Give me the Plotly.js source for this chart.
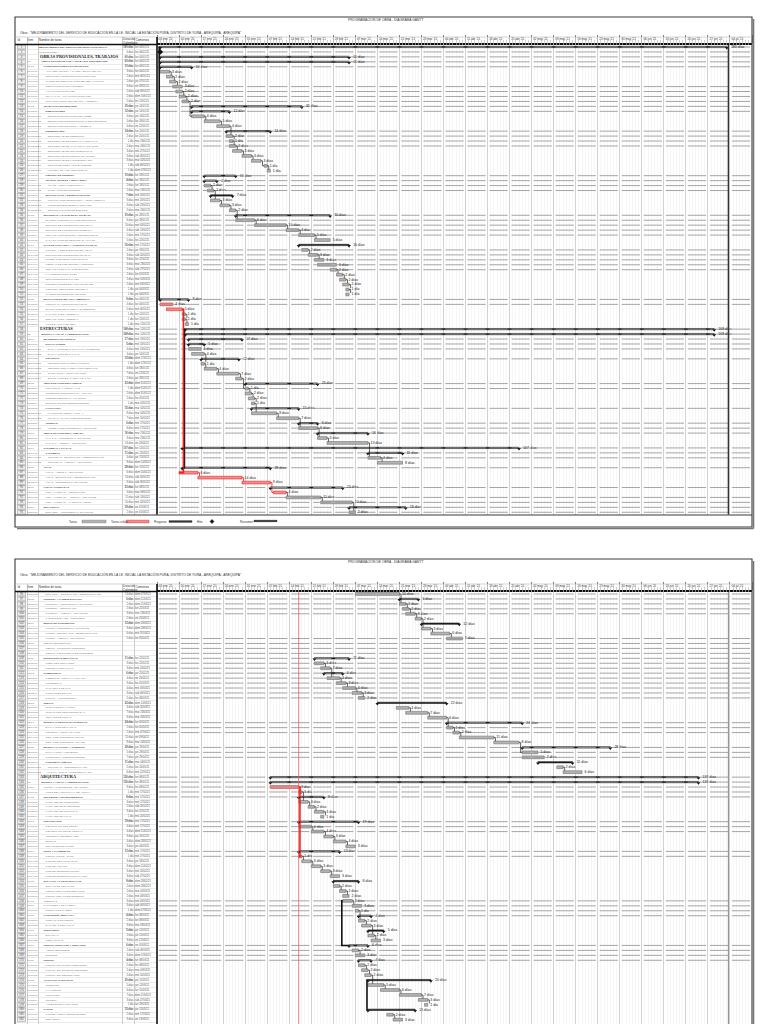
<!DOCTYPE html>
<html><head><meta charset="utf-8">
<script src="https://cdn.plot.ly/plotly-3.0.1.min.js"></script>
<style>html,body{margin:0;padding:0;background:#fff}#chart{width:768px;height:1024px}</style>
</head><body><div id="chart"></div>
<script>
// ---------------- DATA ----------------
const weekLabels = ["03 ene '21","10 ene '21","17 ene '21","24 ene '21","31 ene '21","07 feb '21","14 feb '21","21 feb '21","28 feb '21","07 mar '21","14 mar '21","21 mar '21","28 mar '21","04 abr '21","11 abr '21","18 abr '21","25 abr '21","02 may '21","09 may '21","16 may '21","23 may '21","30 may '21","06 jun '21","13 jun '21","20 jun '21","27 jun '21","04 jul '21"];

// page 1 : S=resumen, T=tarea, C=tarea crítica, M=hito
const p1Type = ['S','M','S','S','S','T','T','T','T','T',
                'T','T','S','S','T','T','T','S','T','T',
                'T','T','T','T','T','T','S','S','T','T',
                'S','T','T','T','S','T','T','T','T','T',
                'S','T','T','T','T','T','T','T','T','T',
                'T','S','C','C','T','T','T','S','S','S',
                'S','T','T','S','T','T','T','T','S','T',
                'T','T','T','S','T','T','S','T','S','T',
                'T','S','S','T','T','S','C','C','C','S',
                'C','T','T','S','T'];
const p1Start = [0,0,0,0,0,0,2,3,4,5,
                 6,7,10,10,10,14,18,21,21,22,
                 22,23,26,29,33,34,14,14,14,15,
                 16,16,19,22,24,24,30,40,44,49,
                 44,45,47,49,50,54,56,57,58,59,
                 59,0,0,2,7,7,8,8,8,9,
                 9,9,10,13,13,14,18,24,27,27,
                 27,28,29,29,29,37,44,44,50,50,
                 53,7,66,66,69,7,6,12,26,35,
                 36,40,51,60,60];
const p1Dur = [180,0,60,60,10,3,2,2,3,2,
               2,2,35,12,4,5,4,14,2,1,
               2,3,3,3,1,1,10,4,2,2,
               7,3,3,2,30,6,10,4,5,5,
               16,2,3,3,6,2,2,2,2,1,
               1,9,4,5,1,1,1,168,168,17,
               5,4,4,12,1,4,7,2,23,1,
               2,2,1,15,8,7,6,6,16,3,
               13,107,11,4,8,28,6,14,9,23,
               4,11,10,18,2];
const p1Level = [0,0,1,1,2,3,3,3,3,3,
                 3,3,2,3,4,4,4,3,4,4,
                 4,4,4,4,4,4,3,3,4,4,
                 3,4,4,4,2,3,3,3,3,3,
                 2,3,3,3,3,3,3,3,3,3,
                 3,2,3,3,3,3,3,1,1,2,
                 3,4,4,3,4,4,4,4,2,3,
                 3,3,3,3,4,4,3,4,2,3,
                 3,2,3,4,4,2,3,3,3,2,
                 3,3,3,2,3];
const p1Name = ["MEJORAMIENTO DEL SERVICIO DE EDUCACIÓN INICIAL","INICIO DE OBRA","OBRAS PROVISIONALES, TRABAJOS","OBRAS PROVISIONALES Y TRABAJOS PRELIMINARES","CONSTRUCCIONES PROVISIONALES","ALMACÉN, OFICINA Y CASETA DE GUARDIANÍA","SERVICIOS HIGIÉNICOS PROVISIONALES","CARTEL DE IDENTIFICACIÓN DE OBRA 3.60x7.20","CERCO PROVISIONAL DE OBRA","AULAS PROVISIONALES",
"SS.HH. PARA AULAS PROVISIONALES","INST. PROVISIONALES DE AGUA Y ENERGÍA","TRABAJOS PRELIMINARES","DEMOLICIONES","DEMOLICIÓN DE MUROS DE ADOBE","DEMOLICIÓN DE ESTRUCTURAS DE CONCRETO","DEMOLICIÓN DE PISOS Y VEREDAS","DESMONTAJES","DESMONTAJE DE COBERTURA","DESMONTAJE DE PUERTAS Y VENTANAS",
"DESMONTAJE DE APARATOS SANITARIOS","DESMONTAJE DE INST. ELÉCTRICAS","DESMONTAJE DE JUEGOS INFANTILES","DESMONTAJE DE TANQUE ELEVADO","RETIRO DE MOBILIARIO EXISTENTE","LIMPIEZA DE ÁREA DESMONTADA","LIMPIEZA DE TERRENO","TRAZOS, NIVELES Y REPLANTEO","TRAZO Y REPLANTEO INICIAL","NIVELACIÓN DE TERRENO",
"MOVILIZACIÓN Y DESMOVILIZACIÓN","MOVILIZACIÓN DE EQUIPOS Y HERRAMIENTAS","FLETE TERRESTRE DE MATERIALES","DESMOVILIZACIÓN DE EQUIPOS","SEGURIDAD Y SALUD EN EL TRABAJO","ELABORACIÓN DEL PLAN DE SEGURIDAD","EQUIPOS DE PROTECCIÓN INDIVIDUAL","EQUIPOS DE PROTECCIÓN COLECTIVA","SEÑALIZACIÓN TEMPORAL DE SEGURIDAD","CAPACITACIÓN EN SEGURIDAD Y SALUD",
"PLAN DE VIGILANCIA Y CONTROL COVID-19","LIMPIEZA Y DESINFECCIÓN DE ÁREAS","EQUIPOS DE PROTECCIÓN COVID-19","PRUEBAS DE DESCARTE COVID-19","MEDIDAS DE PREVENCIÓN Y CONTROL","SEÑALIZACIÓN PARA PREVENCIÓN","LAVADEROS PORTÁTILES","TERMÓMETROS DIGITALES","DISPENSADORES DE ALCOHOL EN GEL","CONTROL MÉDICO DEL PERSONAL",
"MANEJO DE RESIDUOS SÓLIDOS","MITIGACIÓN DE IMPACTO AMBIENTAL","RIEGO PARA CONTROL DE POLVO","ELIMINACIÓN DE MATERIAL EXCEDENTE","CAPACITACIÓN AMBIENTAL","SEÑALIZACIÓN AMBIENTAL","LIMPIEZA FINAL DE OBRA","ESTRUCTURAS","MÓDULO I: AULAS Y ADMINISTRACIÓN","MOVIMIENTO DE TIERRAS",
"EXCAVACIONES","EXCAVACIÓN DE ZANJAS PARA CIMIENTOS","EXCAVACIÓN DE ZAPATAS","RELLENOS","RELLENO CON MATERIAL PROPIO","RELLENO CON MATERIAL DE PRÉSTAMO","NIVELACIÓN Y COMPACTACIÓN","ELIMINACIÓN DE MATERIAL D=5 KM","OBRAS DE CONCRETO SIMPLE","SOLADOS E=4\" MEZCLA 1:12",
"CIMIENTOS CORRIDOS 1:10 + 30% P.G.","SOBRECIMIENTOS f'c=140 kg/cm2","ENCOFRADO DE SOBRECIMIENTOS","FALSO PISO","FALSO PISO MEZCLA 1:8 E=4\"","GRADAS Y RAMPAS DE CONCRETO","VEREDAS","VEREDAS DE CONCRETO f'c=175 kg/cm2","OBRAS DE CONCRETO ARMADO","ZAPATAS - CONCRETO f'c=210 kg/cm2",
"ZAPATAS - ACERO fy=4200 kg/cm2","COLUMNAS Y PLACAS","COLUMNAS","COLUMNAS - ENCOFRADO Y DESENCOFRADO","COLUMNAS - ACERO fy=4200 kg/cm2","VIGAS","VIGAS - ACERO fy=4200 kg/cm2","VIGAS - ENCOFRADO Y DESENCOFRADO","VIGAS - CONCRETO f'c=210 kg/cm2","LOSAS ALIGERADAS",
"LOSA ALIGERADA - ENCOFRADO","LOSA ALIGERADA - ACERO fy=4200 kg/cm2","LOSA ALIGERADA - LADRILLO HUECO","ESCALERAS","ESCALERA - CONCRETO f'c=210 kg/cm2"];
const p1Headings = [2, 57];
const p1Dashed = [0,1,2,3,4,8,9,10,11,12,13,17,18,19,20,26,27,28,29,34,35,36,37,38,41,42,43,44,45,51,52,57,58,59,60,61,63,68,69,73,76,77,78,81,82,83,85,89,91,92,93,94];
const p1Links = [[0,51,'SS',0],[53,86,'FS',1],[57,85,'SS',0]];

// page 2
const p2Type = ['T','S','T','T','T','T','S','T','T','T',
                'N','N','N','S','T','T','S','T','T','T',
                'T','T','S','T','T','T','S','T','T','T',
                'T','S','T','T','S','T','T','S','S','C',
                'C','S','T','T','T','T','S','T','T','T',
                'T','T','S','C','T','T','T','T','S','T',
                'T','T','T','T','T','S','T','T','S','T',
                'T','S','T','T','S','T','T','T','S','T',
                'T','T','T','T','S','T','T'];
const p2Start = [62,76,76,77,78,81,83,83,86,91,
                 null,null,null,49,49,51,52,53,56,58,
                 61,63,69,75,78,85,91,91,93,95,
                 106,115,115,115,120,126,128,35,35,35,
                 44,44,44,47,49,51,44,44,48,52,
                 55,59,44,44,45,48,51,54,55,55,
                 57,58,58,61,62,63,63,64,66,66,
                 67,60,61,62,63,63,64,65,66,66,
                 70,76,82,84,66,72,74];
const p2Dur = [14,6,2,2,3,2,12,3,6,5,
               0,0,0,11,3,3,6,4,3,4,
               3,2,22,4,7,6,24,2,2,11,
               8,28,5,7,11,2,6,136,136,9,
               1,8,3,2,3,1,19,4,4,3,
               4,3,13,1,3,3,3,3,8,2,
               2,2,3,3,1,4,2,3,5,2,
               3,6,2,3,4,2,2,2,20,5,
               6,7,3,1,15,2,3];
const p2Level = [3,2,3,3,3,3,2,3,3,3,
                 2,3,3,2,3,3,2,3,3,3,
                 3,3,2,3,3,3,2,3,3,3,
                 3,2,3,3,3,4,4,1,1,2,
                 3,2,3,3,3,3,2,3,3,3,
                 3,3,2,3,3,3,3,3,2,3,
                 3,3,2,2,3,2,3,3,2,3,
                 3,2,3,3,2,3,3,3,2,3,
                 3,3,3,3,2,3,3];
const p2Name = ["ESCALERA - ENCOFRADO Y DESENCOFRADO","CISTERNA Y TANQUE ELEVADO","CISTERNA - CONCRETO f'c=210 kg/cm2","CISTERNA - ENCOFRADO","CISTERNA - ACERO fy=4200 kg/cm2","TANQUE ELEVADO - CONCRETO","MUROS DE CONTENCIÓN","MUROS - CONCRETO f'c=210 kg/cm2","MUROS - ENCOFRADO Y DESENCOFRADO","MUROS - ACERO fy=4200 kg/cm2",
"CERCO PERIMÉTRICO","CERCO - CIMIENTOS CORRIDOS","CERCO - COLUMNETAS DE CONCRETO","ESTRUCTURAS METÁLICAS","TIJERALES METÁLICOS","CORREAS METÁLICAS","COBERTURAS","COBERTURA CON CALAMINA TR-4","CUMBRERAS","CANALETAS DE PVC",
"MONTANTES DE PVC","PINTURA ANTICORROSIVA","JUNTAS","JUNTAS DE DILATACIÓN","JUNTAS CON TECKNOPORT E=1\"","SELLADO DE JUNTAS","MÓDULO II: SERVICIOS HIGIÉNICOS","EXCAVACIÓN DE ZANJAS","RELLENO Y COMPACTACIÓN","OBRAS DE CONCRETO SIMPLE",
"OBRAS DE CONCRETO ARMADO","MÓDULO III: COCINA Y COMEDOR","EXCAVACIÓN Y RELLENOS","CIMIENTOS Y SOBRECIMIENTOS","CONCRETO ARMADO","COLUMNAS - CONCRETO f'c=210","VIGAS Y LOSAS - CONCRETO f'c=210","ARQUITECTURA","MÓDULO I: AULAS Y ADMINISTRACIÓN","MUROS Y TABIQUES DE ALBAÑILERÍA",
"MURO DE LADRILLO K.K. DE ARCILLA","REVOQUES Y REVESTIMIENTOS","TARRAJEO EN INTERIORES","TARRAJEO EN EXTERIORES","TARRAJEO DE COLUMNAS","TARRAJEO DE VIGAS","CIELORRASOS","CIELORRASO CON MEZCLA","CIELORRASO CON BALDOSAS","VESTIDURA DE DERRAMES",
"BRUÑAS","SOLAQUEO DE MUROS","PISOS Y PAVIMENTOS","CONTRAPISO E=48 mm","PISO DE CERÁMICO 45x45","PISO DE VINÍLICO","PISO DE CEMENTO PULIDO","PISO DE CEMENTO FROTACHADO","ZÓCALOS Y CONTRAZÓCALOS","ZÓCALO DE CERÁMICO",
"CONTRAZÓCALO DE CERÁMICO","CONTRAZÓCALO DE CEMENTO","CUBIERTAS","CARPINTERÍA DE MADERA","PUERTAS DE MADERA","CARPINTERÍA METÁLICA","VENTANAS DE FIERRO","BARANDAS METÁLICAS","CERRAJERÍA","BISAGRAS",
"CERRADURAS","VIDRIOS, CRISTALES Y SIMILARES","VIDRIO SEMIDOBLE","ESPEJOS","PINTURA","PINTURA EN MUROS INTERIORES","PINTURA EN MUROS EXTERIORES","PINTURA EN CIELORRASOS","APARATOS SANITARIOS","INODOROS",
"LAVATORIOS","URINARIOS","GRIFERÍA","ACCESORIOS SANITARIOS","VARIOS","LIMPIEZA PERMANENTE DE OBRA","SEÑALÉTICA"];
const p2Headings = [37];
const p2Dashed = [0,1,2,3,4,9,10,11,12,13,14,15,16,17,18,19,20,21,26,27,28,31,32,33,37,38,39,40,41,46,47,48,52,53,62,63,64,65,71,72,73,74];
const p2Links = [[39,53,'FS',1],[62,71,'SS',0],[78,84,'SS',0]];
const p2StatusDay = 44;

// ---------------- GEOMETRY ----------------
const W = 768, H = 1024, ROW = 4.95;
const P1_TOP = 44.5, P2_TOP = 591.5;
const fx = x => x / W, fy = y => 1 - y / H;
const colBounds = [0, 11, 22, 106, 118, 141];
const dayNames = ['dom','lun','mar','mié','jue','vie','sáb'];
const t0 = Date.UTC(2021, 0, 4);
function dateText(d) {
  const t = new Date(t0 + d * 86400000);
  const p = v => String(v).padStart(2, '0');
  return dayNames[t.getUTCDay()] + ' ' + p(t.getUTCDate()) + '/' + p(t.getUTCMonth() + 1) + '/' + String(t.getUTCFullYear()).slice(2);
}
const durText = d => d === 1 ? '1 día' : d + ' días';
const ctr = [0,0,0,0,0,0];
function makeCodes(lvl, heads) {
  return lvl.map((L, i) => {
    if (heads.includes(i) || L === 0) return '';
    ctr[L]++; for (let k = L + 1; k < 6; k++) ctr[k] = 0;
    return ctr.slice(1, L + 1).map(v => String(v).padStart(2, '0')).join('.');
  });
}

const traces = [];
function buildPage(P, xa, ya, yt, yh) {
  const {type, start, dur, lvl, name, heads, dashed, links, id0} = P;
  const n = type.length;
  const codes = makeCodes(lvl, heads);
  const isTask = t => t === 'T' || t === 'C';
  const dx = [], dy = [];
  dashed.forEach(r => { for (let k = 0; k < weekLabels.length; k++) { const a = -1 + 7 * k; dx.push(a + 0.6, a + 6.4, null); dy.push(r, r, null); } });
  traces.push({type:'scatter', mode:'lines', x:dx, y:dy, xaxis:xa, yaxis:ya, line:{color:'#9c9c9c', width:0.9}, hoverinfo:'skip'});
  const blk = {x:[], y:[]}, red = {x:[], y:[]}, blkT = {x:[], y:[]}, redT = {x:[], y:[]};
  for (let i = 0; i < n; i++) {
    if (!isTask(type[i])) continue;
    for (let j = i + 1; j <= Math.min(n - 1, i + 4); j++) {
      if (isTask(type[j])) {
        const e = start[i] + dur[i];
        if (start[j] >= e - 1.5 && start[j] <= e + 3) {
          const tg = (type[i] === 'C' && type[j] === 'C') ? red : blk;
          const xv = e + 0.5;
          if (start[j] > xv + 0.2) { tg.x.push(e, xv, xv, start[j], null); tg.y.push(i, i, j, j, null); }
          else { tg.x.push(e, xv, xv, null); tg.y.push(i, i, j - 0.28, null); }
        }
        break;
      }
    }
  }
  links.forEach(([f, t, kind, crit]) => {
    const tg = crit ? redT : blkT;
    if (kind === 'SS') { const xv = start[f] - 0.3; tg.x.push(start[f], xv, xv, start[t], null); tg.y.push(f, f, t, t, null); }
    else { const e = start[f] + dur[f], xv = e + 0.4; tg.x.push(e, xv, xv, start[t], null); tg.y.push(f, f, t, t, null); }
  });
  traces.push({type:'scatter', mode:'lines', x:blk.x, y:blk.y, xaxis:xa, yaxis:ya, line:{color:'#222', width:0.7}, hoverinfo:'skip'});
  traces.push({type:'scatter', mode:'lines', x:red.x, y:red.y, xaxis:xa, yaxis:ya, line:{color:'#e83030', width:0.9}, hoverinfo:'skip'});
  traces.push({type:'scatter', mode:'lines', x:blkT.x, y:blkT.y, xaxis:xa, yaxis:ya, line:{color:'#111', width:1.6}, hoverinfo:'skip'});
  traces.push({type:'scatter', mode:'lines', x:redT.x, y:redT.y, xaxis:xa, yaxis:ya, line:{color:'#f02020', width:1.6}, hoverinfo:'skip'});
  const rowsOf = t => type.map((v, i) => v === t ? i : -1).filter(i => i >= 0);
  const bar = (rows, w, fill, lc) => ({type:'bar', orientation:'h', y:rows, x:rows.map(r => dur[r]), base:rows.map(r => start[r]), width:w,
    marker:{color:fill, line:{color:lc, width:0.6}}, xaxis:xa, yaxis:ya, hoverinfo:'skip'});
  const T = rowsOf('T'), C = rowsOf('C'), S = rowsOf('S'), M = rowsOf('M');
  traces.push(bar(T, 0.56, '#b4b4b4', '#6e6e6e'));
  traces.push(bar(C, 0.56, '#f58a8a', '#e02a2a'));
  traces.push(bar(S, 0.26, '#1c1c1c', '#1c1c1c'));
  traces.push({type:'scatter', mode:'markers', x:S.flatMap(r => [start[r], start[r] + dur[r]]), y:S.flatMap(r => [r + 0.2, r + 0.2]),
    xaxis:xa, yaxis:ya, marker:{symbol:'triangle-down', size:3.4, color:'#1c1c1c'}, hoverinfo:'skip'});
  traces.push({type:'scatter', mode:'markers', x:M.map(r => start[r]), y:M, xaxis:xa, yaxis:ya,
    marker:{symbol:'diamond', size:4.5, color:'#111'}, hoverinfo:'skip'});
  const L = T.concat(C, S);
  traces.push({type:'scatter', mode:'text', x:L.map(r => start[r] + dur[r] + (type[r] === 'S' ? 1.3 : 0.8)), y:L, text:L.map(r => durText(dur[r])),
    textposition:'middle right', textfont:{size:3.5, color:'#1a1a1a', family:'Liberation Sans'}, xaxis:xa, yaxis:ya, hoverinfo:'skip', cliponaxis:false});
  // table
  const all = type.map((v, i) => i);
  traces.push({type:'bar', orientation:'h', y:all, x:all.map(() => 8), base:all.map(() => 1.5), width:0.8,
    marker:{color:'#ededed', line:{color:'#8a8a8a', width:0.5}}, xaxis:'x2', yaxis:yt, hoverinfo:'skip'});
  const tf = (s, c) => ({size:s, color:c || '#666', family:'Liberation Sans'});
  traces.push({type:'scatter', mode:'text', x:all.map(() => 5.5), y:all, text:all.map(i => String(id0 + i)), textposition:'middle center', textfont:tf(2.7, '#555'), xaxis:'x2', yaxis:yt, hoverinfo:'skip'});
  traces.push({type:'scatter', mode:'text', x:all.map(() => 11.6), y:all, text:codes, textposition:'middle right', textfont:tf(2.5, '#666'), xaxis:'x2', yaxis:yt, hoverinfo:'skip'});
  const normal = all.filter(i => type[i] !== 'S' && !heads.includes(i));
  const bold = all.filter(i => type[i] === 'S' && !heads.includes(i));
  traces.push({type:'scatter', mode:'text', x:normal.map(i => 23 + lvl[i] * 2.2), y:normal, text:normal.map(i => name[i]), textposition:'middle right', textfont:tf(2.5, '#777'), xaxis:'x2', yaxis:yt, hoverinfo:'skip'});
  traces.push({type:'scatter', mode:'text', x:bold.map(i => 23 + lvl[i] * 2.2), y:bold, text:bold.map(i => '<b>' + name[i] + '</b>'), textposition:'middle right', textfont:tf(2.5, '#444'), xaxis:'x2', yaxis:yt, hoverinfo:'skip'});
  traces.push({type:'scatter', mode:'text', x:heads.map(() => 24), y:heads, text:heads.map(i => '<b>' + name[i] + '</b>'), textposition:'middle right',
    textfont:{size:4.4, color:'#1a1a1a', family:'Liberation Serif'}, xaxis:'x2', yaxis:yt, hoverinfo:'skip'});
  const dRows = all.filter(i => type[i] !== 'N');
  traces.push({type:'scatter', mode:'text', x:dRows.map(() => 117.5), y:dRows, text:dRows.map(i => type[i] === 'S' ? '<b>' + durText(dur[i]) + '</b>' : durText(dur[i])), textposition:'middle left', textfont:tf(2.6, '#555'), xaxis:'x2', yaxis:yt, hoverinfo:'skip'});
  traces.push({type:'scatter', mode:'text', x:dRows.map(() => 119), y:dRows, text:dRows.map(i => dateText(start[i])), textposition:'middle right', textfont:tf(2.6, '#555'), xaxis:'x2', yaxis:yt, hoverinfo:'skip'});
  traces.push({type:'scatter', mode:'text', x:[1.5, 11.5, 23, 107, 119.5], y:[0.62, 0.62, 0.62, 0.45, 0.62],
    text:['Id', 'Item', 'Nombre de tarea', 'Duración<br>Calendario', 'Comienzo'], textposition:'middle right', textfont:tf(3, '#333'),
    xaxis:'x2', yaxis:yh, hoverinfo:'skip', cliponaxis:false});
  traces.push({type:'scatter', mode:'text', x:weekLabels.map((w, k) => -1 + 7 * k + 0.5), y:weekLabels.map(() => 0.7), text:weekLabels,
    textposition:'middle right', textfont:tf(3, '#333'), xaxis:xa, yaxis:yh, hoverinfo:'skip', cliponaxis:false});
}

buildPage({type:p1Type, start:p1Start, dur:p1Dur, lvl:p1Level, name:p1Name, heads:p1Headings, dashed:p1Dashed, links:p1Links, id0:1}, 'x', 'y', 'y3', 'y5');
buildPage({type:p2Type, start:p2Start, dur:p2Dur, lvl:p2Level, name:p2Name, heads:p2Headings, dashed:p2Dashed, links:p2Links, id0:1 + p1Type.length}, 'x3', 'y2', 'y4', 'y6');

const finish = p1Start[0] + p1Dur[0] + 0.5;
traces.push({type:'scatter', mode:'lines', x:[finish, finish], y:[-0.5, p1Type.length - 0.5], xaxis:'x', yaxis:'y', line:{color:'#333', width:1.4}, hoverinfo:'skip'});
traces.push({type:'scatter', mode:'lines', x:[finish, finish], y:[-0.5, 100], xaxis:'x3', yaxis:'y2', line:{color:'#888', width:1}, hoverinfo:'skip'});
traces.push({type:'scatter', mode:'lines', x:[p2StatusDay, p2StatusDay], y:[-0.5, 100], xaxis:'x3', yaxis:'y2', line:{color:'#f25050', width:0.7}, hoverinfo:'skip'});

// ---------------- LAYOUT ----------------
const n1 = p1Type.length;
const p1Bot = P1_TOP + n1 * ROW;
const p2Rows = (H - P2_TOP) / ROW;
const gx = {domain:[fx(157), fx(752)], range:[-1, 188], side:'top', tickmode:'linear', tick0:-1, dtick:7, ticks:'outside', ticklen:8, tickwidth:0.7, tickcolor:'#444',
  showticklabels:false, showgrid:true, gridcolor:'#c6c6c6', gridwidth:0.8, showline:true, linecolor:'#111', linewidth:1.5, zeroline:false, fixedrange:true,
  minor:{tick0:-1, dtick:1, ticks:'outside', ticklen:3, tickwidth:0.5, tickcolor:'#666', showgrid:true, gridcolor:'#eeeeee', gridwidth:0.5}};
const plainY = (dom, rng, anchor) => ({domain:dom, range:rng, anchor, showticklabels:false, showgrid:false, zeroline:false, ticks:'', fixedrange:true});
const gridY = (dom, rng, anchor, n) => Object.assign(plainY(dom, rng, anchor), {tickmode:'array', tickvals:Array.from({length:n}, (v, i) => i + 0.5), showgrid:true, gridcolor:'#d8d8d8', gridwidth:0.5});

const shapes = [];
const line = (x0, y0, x1, y1, c, w) => shapes.push({type:'line', xref:'paper', yref:'paper', x0:fx(x0), y0:fy(y0), x1:fx(x1), y1:fy(y1), line:{color:c, width:w}});
const rect = (x0, y0, x1, y1, c, w, fill) => shapes.push({type:'rect', xref:'paper', yref:'paper', x0:fx(x0), y0:fy(y0), x1:fx(x1), y1:fy(y1), line:{color:c, width:w}, fillcolor:fill || 'rgba(0,0,0,0)'});
rect(15, 17, 752, 527, '#3a3a3a', 1.1);
line(753.5, 19, 753.5, 528.5, '#777', 1.6); line(17, 528.5, 753.5, 528.5, '#777', 1.6);
line(15, 37, 752, 37, '#bbb', 0.6);
line(15, 44.5, 157, 44.5, '#111', 1.4);
line(157, 37, 157, p1Bot, '#111', 1.6);
line(15, 515, 752, 515, '#3a3a3a', 1);
rect(15, 559, 752, 1030, '#3a3a3a', 1.1);
line(753.5, 561, 753.5, 1024, '#777', 1.6);
line(15, 584, 752, 584, '#bbb', 0.6);
line(15, 591.5, 157, 591.5, '#111', 1.4);
line(157, 584, 157, 1024, '#111', 1.6);
const LY = 521.5;
rect(82, LY - 1.3, 106, LY + 1.3, '#7a7a7a', 0.5, '#b4b4b4');
rect(126, LY - 1.3, 149, LY + 1.3, '#e02a2a', 0.5, '#f58a8a');
rect(169, LY - 0.8, 192, LY + 0.8, '#333', 0.5, '#333');
shapes.push({type:'path', xref:'paper', yref:'paper', path:`M ${fx(212)} ${fy(LY-2)} L ${fx(214)} ${fy(LY)} L ${fx(212)} ${fy(LY+2)} L ${fx(210)} ${fy(LY)} Z`, fillcolor:'#111', line:{color:'#111', width:0.5}});
rect(254, LY - 1.2, 277, LY + 0.2, '#1c1c1c', 0.5, '#1c1c1c');

const annotations = [];
const ann = (x, y, text, size, anchor) => annotations.push({xref:'paper', yref:'paper', x:fx(x), y:fy(y), text, showarrow:false, xanchor:anchor || 'left', yanchor:'middle',
  font:{size, color:'#333', family:'Liberation Sans'}});
[0, 542].forEach(off => {
  ann(385, 20 + off, 'PROGRAMACION DE OBRA - DIAGRAMA GANTT', 3.3, 'center');
  ann(18, 32 + off, 'Obra:  "MEJORAMIENTO DEL SERVICIO DE EDUCACIÓN EN LA I.E. INICIAL LA ESTACIÓN PURA, DISTRITO DE YURA - AREQUIPA - AREQUIPA"', 3.3, 'left');
});
ann(67, LY, 'Tarea', 3.1); ann(109, LY, 'Tarea crítica', 3.1); ann(152, LY, 'Progreso', 3.1); ann(195, LY, 'Hito', 3.1); ann(238, LY, 'Resumen', 3.1);

const layout = {
  width:W, height:H, margin:{l:0, r:0, t:0, b:0}, paper_bgcolor:'#fff', plot_bgcolor:'rgba(0,0,0,0)', showlegend:false, barmode:'overlay', bargap:0,
  font:{family:'Liberation Sans', size:4, color:'#222'},
  xaxis:Object.assign({}, gx, {anchor:'y'}),
  xaxis3:Object.assign({}, gx, {anchor:'y2'}),
  xaxis2:{domain:[fx(16), fx(157)], range:[0, 141], anchor:'y3', tickmode:'array', tickvals:colBounds, ticks:'', showticklabels:false, showgrid:true, gridcolor:'#a8a8a8', gridwidth:0.6, zeroline:false, fixedrange:true},
  yaxis:plainY([fy(p1Bot), fy(P1_TOP)], [n1 - 0.5, -0.5], 'x'),
  yaxis3:gridY([fy(p1Bot), fy(P1_TOP)], [n1 - 0.5, -0.5], 'x2', n1),
  yaxis2:plainY([0, fy(P2_TOP)], [p2Rows - 0.5, -0.5], 'x3'),
  yaxis4:gridY([0, fy(P2_TOP)], [p2Rows - 0.5, -0.5], 'x2', p2Type.length),
  yaxis5:plainY([fy(P1_TOP), fy(37)], [0, 1], 'x'),
  yaxis6:plainY([fy(P2_TOP), fy(584)], [0, 1], 'x3'),
  shapes, annotations
};
Plotly.newPlot('chart', traces, layout, {staticPlot:true, displayModeBar:false});
</script>
</body></html>
